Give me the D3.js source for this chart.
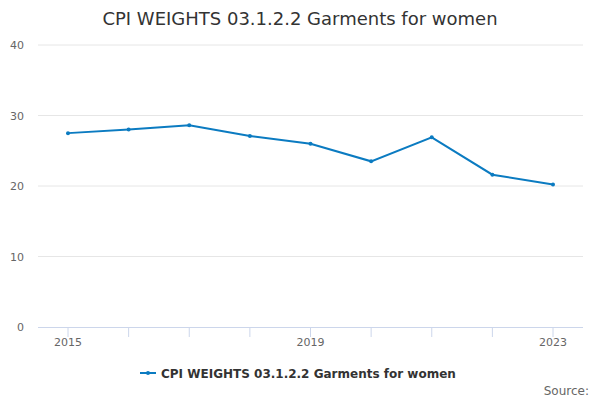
<!DOCTYPE html>
<html><head><meta charset="utf-8">
<script src="https://cdn.jsdelivr.net/npm/d3@7"></script>
<style>body{margin:0;background:#fff}text{font-family:"DejaVu Sans",sans-serif}</style>
</head><body>
<svg id="c" width="600" height="400"></svg>
<script>
const years = [2015,2016,2017,2018,2019,2020,2021,2022,2023];
const values = [27.5,28.0,28.6,27.1,26.0,23.5,26.9,21.6,20.2];
const yTicks = [0,10,20,30,40];
const xLabels = [2015,2019,2023];
const title = "CPI WEIGHTS 03.1.2.2 Garments for women";
const color = "#0b7bc1";

const svg = d3.select("#c");
const x = d3.scaleLinear().domain([2015,2023]).range([68,553]);
const y = d3.scaleLinear().domain([0,40]).range([327,45]);

svg.append("text").attr("x",300).attr("y",25).attr("text-anchor","middle")
  .attr("font-size",18).attr("fill","#333").text(title);

svg.append("g").selectAll("line").data(yTicks.filter(d=>d>0)).join("line")
  .attr("x1",38).attr("x2",583).attr("y1",d=>y(d)).attr("y2",d=>y(d))
  .attr("stroke","#e6e6e6");
svg.append("g").selectAll("text").data(yTicks).join("text")
  .attr("x",24).attr("y",d=>y(d)+4).attr("text-anchor","end")
  .attr("font-size",11).attr("fill","#666").text(d=>d);

svg.append("line").attr("x1",38).attr("x2",583).attr("y1",327.5).attr("y2",327.5).attr("stroke","#ccd6eb");
svg.append("g").selectAll("line").data(years).join("line")
  .attr("x1",d=>x(d)).attr("x2",d=>x(d)).attr("y1",327).attr("y2",337).attr("stroke","#ccd6eb");
svg.append("g").selectAll("text").data(xLabels).join("text")
  .attr("x",d=>x(d)).attr("y",346).attr("text-anchor","middle")
  .attr("font-size",11).attr("fill","#666").text(d=>d);

const line = d3.line().x((d,i)=>x(years[i])).y(d=>y(d));
svg.append("path").datum(values).attr("d",line).attr("fill","none")
  .attr("stroke",color).attr("stroke-width",2);
svg.append("g").selectAll("circle").data(values).join("circle")
  .attr("cx",(d,i)=>x(years[i])).attr("cy",d=>y(d)).attr("r",2).attr("fill",color);

const lg = svg.append("g");
lg.append("line").attr("x1",140).attr("x2",156).attr("y1",373).attr("y2",373).attr("stroke",color).attr("stroke-width",2);
lg.append("circle").attr("cx",148).attr("cy",373).attr("r",2).attr("fill",color);
lg.append("text").attr("x",161).attr("y",378).attr("font-size",12).attr("font-weight","bold")
  .attr("fill","#333").text(title);

svg.append("text").attr("x",589).attr("y",395).attr("text-anchor","end")
  .attr("font-size",12).attr("fill","#666").text("Source:");
</script>
</body></html>
